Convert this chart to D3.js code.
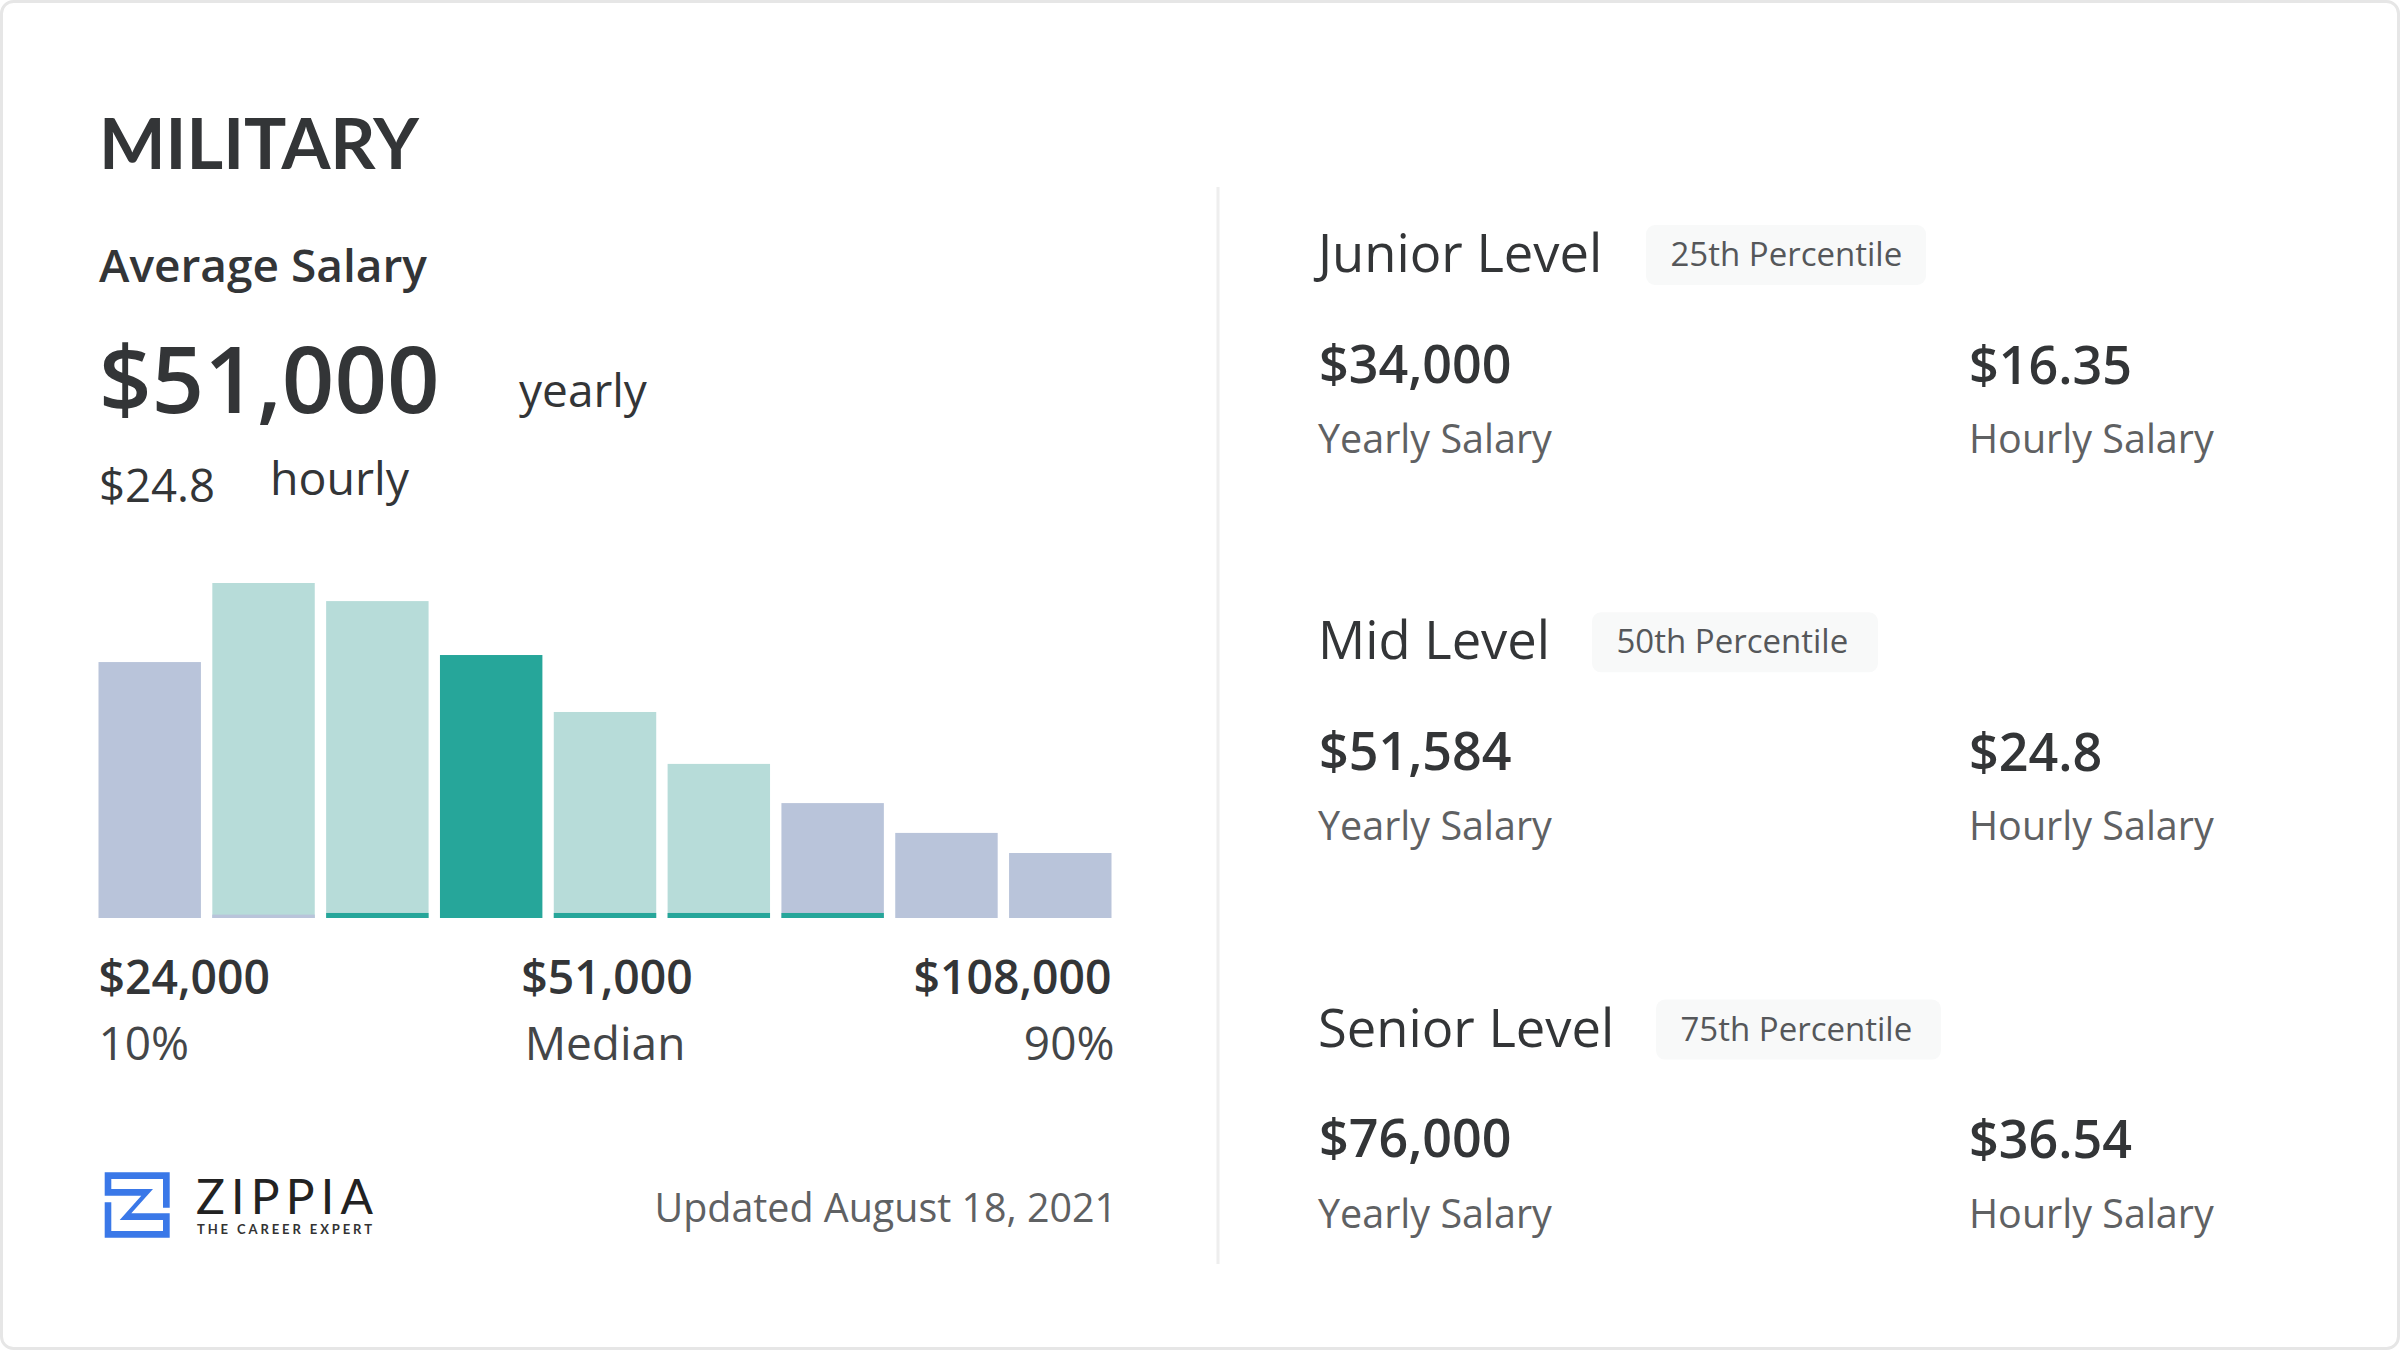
<!DOCTYPE html>
<html>
<head>
<meta charset="utf-8">
<title>Military salary</title>
<script src="https://cdn.jsdelivr.net/npm/d3@7"></script>
<style>
  html, body { margin: 0; padding: 0; background: #fff; }
  svg { display: block; font-family: "Open Sans", sans-serif; }
</style>
</head>
<body>
<svg id="chart" width="2400" height="1350"></svg>
<script>
// salary histogram, bar heights (tallest = 100)
var bins = ['b1', 'b2', 'b3', 'b4', 'b5', 'b6', 'b7', 'b8', 'b9'];
var binValues = [76.4, 100, 94.6, 78.5, 61.5, 46, 34.3, 25.4, 19.4];
var binTiers = ['outer', 'inner', 'inner', 'median', 'inner', 'inner', 'outer', 'outer', 'outer'];
// thin strip at the foot of some bars
var stripValues = [0, 1, 1.5, 0, 1.5, 1.5, 1.5, 0, 0];
var stripTiers = ['none', 'outer', 'median', 'none', 'median', 'median', 'median', 'none', 'none'];

var tickBins = ['b1', 'b5', 'b9'];
var tickSalaries = ['$24,000', '$51,000', '$108,000'];
var tickNames = ['10%', 'Median', '90%'];

var levels = ['Junior Level', 'Mid Level', 'Senior Level'];
var percentiles = ['25th Percentile', '50th Percentile', '75th Percentile'];
var yearlySalaries = ['$34,000', '$51,584', '$76,000'];
var hourlySalaries = ['$16.35', '$24.8', '$36.54'];

var tierColor = { outer: '#b9c4da', inner: '#b7dcd9', median: '#26a69a' };
var dark = '#333537';
var grey = '#5f6163';

var svg = d3.select('#chart');

function label(txt, x, y, size, weight, color, anchor) {
	return svg.append('text')
		.attr('x', x).attr('y', y)
		.attr('font-size', size)
		.attr('font-weight', weight)
		.attr('fill', color)
		.attr('text-anchor', anchor || 'start')
		.text(txt);
}

// card
svg.append('rect')
	.attr('x', 1.5).attr('y', 1.5)
	.attr('width', 2397).attr('height', 1347)
	.attr('rx', 12)
	.attr('fill', '#fff')
	.attr('stroke', '#e6e6e6')
	.attr('stroke-width', 3);

// left column headings
label('MILITARY', 99, 169, 70.5, 700, dark).attr('font-family', 'Lato');
label('Average Salary', 99, 282, 46, 600, dark);
label('$51,000', 99, 413, 92, 600, dark);
label('yearly', 519, 407, 46, 400, dark);
label('$24.8', 99, 502, 45.5, 400, dark);
label('hourly', 270, 495, 46.5, 400, dark);

// bars
var x = d3.scaleBand().domain(bins).range([98.5, 1111.5]).paddingInner(0.1);
var y = d3.scaleLinear().domain([0, 100]).range([918, 583]);

svg.append('g').selectAll('rect')
	.data(bins)
	.enter()
	.append('rect')
	.attr('x', function(d) { return x(d); })
	.attr('width', x.bandwidth())
	.attr('y', function(d, i) { return y(binValues[i]); })
	.attr('height', function(d, i) { return y(0) - y(binValues[i]); })
	.attr('fill', function(d, i) { return tierColor[binTiers[i]]; });

svg.append('g').selectAll('rect')
	.data(bins.filter(function(d, i) { return stripValues[i] > 0; }))
	.enter()
	.append('rect')
	.attr('x', function(d) { return x(d); })
	.attr('width', x.bandwidth())
	.attr('y', function(d) { return y(stripValues[bins.indexOf(d)]); })
	.attr('height', function(d) { return y(0) - y(stripValues[bins.indexOf(d)]); })
	.attr('fill', function(d) { return tierColor[stripTiers[bins.indexOf(d)]]; });

// the two rows of tick labels, first one starts at the left, last ends at the right
function tickRow(names, top, size, weight, color, midShift, endShift) {
	var axis = d3.axisBottom(x)
		.tickValues(tickBins)
		.tickSize(0)
		.tickPadding(0)
		.tickFormat(function(d) { return names[tickBins.indexOf(d)]; });
	var g = svg.append('g').attr('transform', 'translate(0,' + top + ')').call(axis);
	g.select('.domain').remove();
	g.selectAll('text')
		.attr('font-family', '"Open Sans"')
		.attr('font-size', size)
		.attr('font-weight', weight)
		.attr('fill', color)
		.attr('dy', 0)
		.attr('text-anchor', function(d, i) { return i == 0 ? 'start' : (i == 1 ? 'middle' : 'end'); })
		.attr('x', function(d, i) { return i == 0 ? -x.bandwidth() / 2 : (i == 1 ? midShift : x.bandwidth() / 2 + endShift); });
}
tickRow(tickSalaries, 994, 46.3, 600, dark, 2, 0);
tickRow(tickNames, 1060, 46, 400, '#444648', 0, 3);

// logo
svg.append('path')
	.attr('d', 'M104.7 1172.3H169.7V1207.7H163V1179H111.3V1189H153L131.3 1213.3H169.7V1237.7H104.7V1202.3H111.3V1231H163V1220H119.7L141.3 1195.7H104.7Z')
	.attr('fill', '#3a78e8');
label('ZIPPIA', 196, 1214, 48, 400, '#222').attr('font-family', 'Lato').attr('letter-spacing', 6.2);
label('THE CAREER EXPERT', 197, 1234, 13, 700, '#333').attr('font-family', 'Lato').attr('letter-spacing', 2.9);

label('Updated August 18, 2021', 1117, 1222, 39.4, 400, grey, 'end');

// divider
svg.append('line')
	.attr('x1', 1218).attr('x2', 1218)
	.attr('y1', 187).attr('y2', 1264)
	.attr('stroke', '#eeeeee')
	.attr('stroke-width', 3);

// right column, one block per level
var pillLeft = [1646, 1592, 1656];
var pillWidth = [280, 286, 285];
levels.forEach(function(level, i) {
	var dy = i * 387.3;
	label(level, 1318, 272 + dy, 52.5, 400, dark);
	svg.append('rect')
		.attr('x', pillLeft[i]).attr('y', 225 + dy)
		.attr('width', pillWidth[i]).attr('height', 60)
		.attr('rx', 9)
		.attr('fill', '#f8f9f9');
	label(percentiles[i], pillLeft[i] + 24.5, 266 + dy, 33, 400, '#55575a');
	label(yearlySalaries[i], 1319, 382.5 + dy, 52, 600, dark);
	label('Yearly Salary', 1318, 453 + dy, 39.5, 400, grey);
	label(hourlySalaries[i], 1969, 383.5 + dy, 52, 600, dark);
	label('Hourly Salary', 1969, 453 + dy, 39.5, 400, grey);
});
</script>
</body>
</html>
